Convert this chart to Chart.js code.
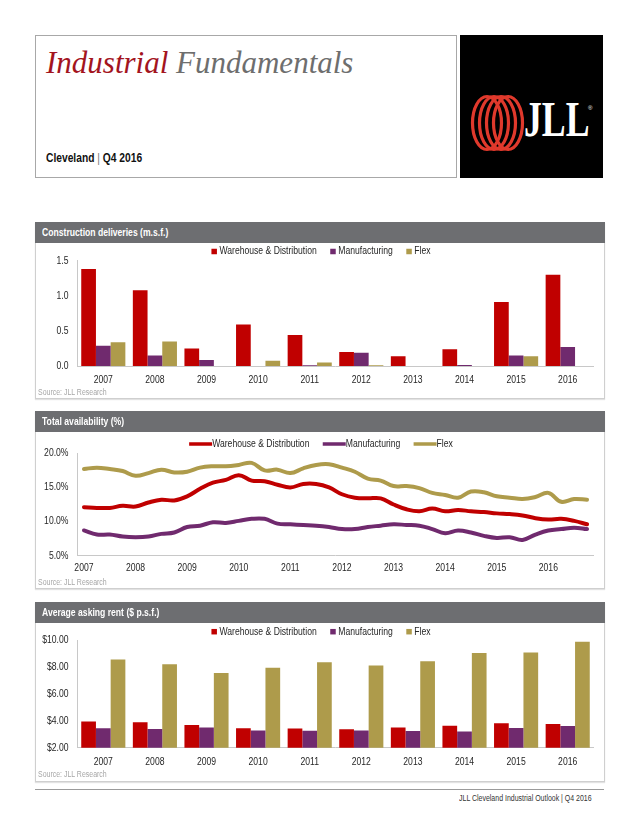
<!DOCTYPE html>
<html>
<head>
<meta charset="utf-8">
<script src="https://cdn.jsdelivr.net/npm/chart.js@4/dist/chart.umd.min.js"></script>
<style>
  body { margin: 0; background: #fff; }
  #page { position: relative; width: 638px; height: 826px; overflow: hidden; font-family: 'Liberation Sans', Arial, sans-serif; }
  .abs { position: absolute; }
  .nar { display: inline-block; transform: scaleX(0.82); transform-origin: left center; white-space: nowrap; text-indent: 0; }
  .hdr { left: 35px; top: 35px; width: 420px; height: 141px; border: 1px solid #a8a8a8; }
  .title { left: 46px; top: 47px; font-family: 'Liberation Serif', serif; font-style: italic; font-size: 31px; line-height: 1; white-space: nowrap; }
  .title .r { color: #a3141e; }
  .title .g { color: #6e6e6e; }
  .sub { left: 46px; top: 152px; font-size: 12.5px; line-height: 1; font-weight: bold; color: #111; }
  .sub .sep { font-weight: normal; color: #777; }
  .logo { left: 460px; top: 35px; width: 143px; height: 143px; background: #000; }
  .panel { left: 35px; width: 568px; border: 1px solid #cfcfcf; box-shadow: 0 1px 1px #e2e2e2; }
  .bar { left: 35px; width: 563px; height: 21px; padding-left: 7px; background: #6d6e71; color: #fff; font-weight: bold; font-size: 10.5px; line-height: 21px; }
  .src { left: 38px; font-size: 8.5px; color: #a6a6a6; line-height: 1; }
  .wrap { left: 35px; width: 569px; }
  .foot { right: 46px; top: 794px; font-size: 8.5px; color: #333; line-height: 1; }
  .foot .nar { transform-origin: right center; }
</style>
</head>
<body>
<div id="page">
  <div class="abs hdr"></div>
  <div class="abs title"><span class="r">Industrial</span> <span class="g">Fundamentals</span></div>
  <div class="abs sub"><span class="nar">Cleveland <span class="sep">|</span> Q4 2016</span></div>
  <div class="abs logo">
    <svg width="143" height="143" style="position:absolute;left:0;top:0">
      <g fill="none" stroke="#e0392c" stroke-width="3.2">
        <ellipse cx="27" cy="88" rx="14.5" ry="26.5"/>
        <ellipse cx="34" cy="88" rx="14.5" ry="26.5"/>
        <ellipse cx="41" cy="88" rx="14.5" ry="26.5"/>
        <ellipse cx="48" cy="88" rx="14.5" ry="26.5"/>
      </g>
    </svg>
    <div class="abs" style="left:64px;top:59px;font-family:'Liberation Serif',serif;font-weight:bold;font-size:51px;line-height:1;color:#fff;transform:scaleX(0.7);transform-origin:left top;white-space:nowrap">JLL</div>
    <div class="abs" style="left:128px;top:70px;font-size:6px;color:#fff;line-height:1">®</div>
  </div>

  <div class="abs panel" style="top:222px;height:175px"></div>
  <div class="abs bar" style="top:222px"><span class="nar">Construction deliveries (m.s.f.)</span></div>
  <div class="abs wrap" style="top:244px;height:146px"><canvas id="c1"></canvas></div>
  <div class="abs src" style="top:388px"><span class="nar">Source: JLL Research</span></div>

  <div class="abs panel" style="top:411px;height:176px"></div>
  <div class="abs bar" style="top:411px"><span class="nar">Total availability (%)</span></div>
  <div class="abs wrap" style="top:434px;height:146px"><canvas id="c2"></canvas></div>
  <div class="abs src" style="top:578px"><span class="nar">Source: JLL Research</span></div>

  <div class="abs panel" style="top:602px;height:178px"></div>
  <div class="abs bar" style="top:602px"><span class="nar">Average asking rent ($ p.s.f.)</span></div>
  <div class="abs wrap" style="top:625px;height:147px"><canvas id="c3"></canvas></div>
  <div class="abs src" style="top:770px"><span class="nar">Source: JLL Research</span></div>

  <div class="abs" style="left:35px;top:789px;width:569px;height:1px;background:#9a9a9a"></div>
  <div class="abs foot"><span class="nar">JLL Cleveland Industrial Outlook | Q4 2016</span></div>
</div>
<script>
const years = ['2007','2008','2009','2010','2011','2012','2013','2014','2015','2016'];
const seriesNames = ['Warehouse & Distribution', 'Manufacturing', 'Flex'];
const seriesColors = ['#c00000', '#702a6e', '#ae9b4b'];

// construction deliveries, m.s.f.
const whDeliveries  = [1.38, 1.08, 0.25, 0.59, 0.44, 0.20, 0.14, 0.24, 0.91, 1.30];
const mfgDeliveries = [0.29, 0.15, 0.085, 0, 0.01, 0.19, 0, 0.015, 0.15, 0.27];
const flexDeliveries = [0.34, 0.35, 0, 0.075, 0.05, 0.01, 0, 0, 0.14, 0];

// total availability %, quarterly 2007 Q1 - 2016 Q4
const whAvail = [12.1, 12.0, 12.0, 12.3, 12.2, 12.8, 13.2, 13.1, 13.7, 14.8, 15.7, 16.1,
  16.8, 16.0, 15.9, 15.4, 15.0, 15.5, 15.5, 15.0, 14.0, 13.5, 13.4, 13.4,
  12.5, 11.8, 11.5, 11.9, 11.5, 11.7, 11.5, 11.4, 11.2, 11.1, 10.9, 10.5,
  10.3, 10.4, 10.1, 9.6];
const mfgAvail = [8.7, 8.1, 8.1, 7.8, 7.7, 7.8, 8.2, 8.4, 9.2, 9.4, 9.9, 9.8,
  10.1, 10.4, 10.4, 9.7, 9.6, 9.5, 9.4, 9.2, 8.9, 8.9, 9.2, 9.4,
  9.6, 9.5, 9.4, 8.9, 8.3, 8.7, 8.4, 7.9, 7.6, 7.7, 7.3, 8.1,
  8.7, 8.9, 9.1, 8.9];
const flexAvail = [17.7, 17.9, 17.7, 17.4, 16.7, 17.1, 17.6, 17.2, 17.3, 17.9, 18.1, 18.1,
  18.3, 18.6, 17.5, 17.6, 17.1, 17.8, 18.3, 18.4, 17.9, 17.3, 16.3, 16.0,
  15.2, 15.2, 14.9, 14.2, 13.9, 13.5, 14.4, 14.3, 13.7, 13.5, 13.3, 13.6,
  14.2, 12.9, 13.3, 13.2];

// average asking rent, $ p.s.f.
const whRent   = [3.95, 3.90, 3.69, 3.45, 3.43, 3.38, 3.50, 3.64, 3.83, 3.76];
const mfgRent  = [3.45, 3.40, 3.50, 3.28, 3.26, 3.28, 3.24, 3.21, 3.47, 3.62];
const flexRent = [8.57, 8.21, 7.57, 7.96, 8.37, 8.13, 8.44, 9.05, 9.10, 9.89];

const quarters = years.flatMap(y => ['Q1', 'Q2', 'Q3', 'Q4'].map(q => q + ' ' + y));

const FONT = "'Liberation Sans', Arial, sans-serif";
const SQUEEZE = 0.82;   // no narrow font here, so squeeze text like Arial Narrow
Chart.defaults.font.family = FONT;
Chart.defaults.font.size = 10.5;
Chart.defaults.color = '#262626';
Chart.defaults.animation = false;

function narrowCtx(id) {
  const ctx = document.getElementById(id).getContext('2d');
  const fill = ctx.fillText.bind(ctx);
  ctx.fillText = (t, x, y, m) => {
    ctx.save();
    ctx.translate(x, y);
    ctx.scale(SQUEEZE, 1);
    fill(t, 0, 0, m);
    ctx.restore();
  };
  return ctx;
}

// legend drawn at a fixed spot above the plot
const topLegend = {
  id: 'topLegend',
  afterDraw(chart, args, o) {
    const ctx = chart.ctx;
    ctx.save();
    ctx.font = o.size + 'px ' + FONT;
    ctx.textBaseline = 'middle';
    ctx.textAlign = 'left';
    const items = chart.data.datasets.map(ds => ({ text: ds.label, color: ds.borderColor || ds.backgroundColor }));
    const w = items.map(it => o.markW + o.gap + ctx.measureText(it.text).width * SQUEEZE);
    const total = w.reduce((a, b) => a + b, 0) + o.spacing * (items.length - 1);
    let x = o.cx - total / 2;
    items.forEach((it, i) => {
      ctx.fillStyle = it.color;
      ctx.fillRect(x, o.y - o.markH / 2, o.markW, o.markH);
      ctx.fillStyle = '#262626';
      ctx.fillText(it.text, x + o.markW + o.gap, o.y);
      x += w[i] + o.spacing;
    });
    ctx.restore();
  }
};

function makeScales(min, max, step, fmt, xPad, xHeight) {
  return {
    x: {
      grid: { display: false, drawTicks: false },
      border: { color: '#c8c8c8' },
      ticks: { padding: xPad, maxRotation: 0, autoSkip: false },
      afterFit: s => { s.height = xHeight; }
    },
    y: {
      min: min, max: max,
      grid: { display: false, drawTicks: false },
      border: { color: '#c8c8c8' },
      ticks: { stepSize: step, padding: 9, callback: fmt },
      afterFit: s => { s.width = 42.5; }
    }
  };
}

function barSets(a, b, c) {
  return [a, b, c].map((d, i) => ({
    label: seriesNames[i], data: d, backgroundColor: seriesColors[i],
    borderWidth: 0, categoryPercentage: 0.855, barPercentage: 1
  }));
}

new Chart(narrowCtx('c1'), {
  type: 'bar',
  data: { labels: years, datasets: barSets(whDeliveries, mfgDeliveries, flexDeliveries) },
  options: {
    responsive: true, maintainAspectRatio: false,
    layout: { padding: { top: 16.7, right: 10.5, left: 0, bottom: 0 } },
    plugins: {
      legend: { display: false }, tooltip: { enabled: false },
      topLegend: { cx: 286, y: 7.5, size: 10.5, markW: 5.5, markH: 5.5, gap: 2.5, spacing: 13.5 }
    },
    scales: makeScales(0, 1.5, 0.5, v => v.toFixed(1), 8, 24)
  },
  plugins: [topLegend]
});

new Chart(narrowCtx('c2'), {
  type: 'line',
  data: {
    labels: quarters,
    datasets: [whAvail, mfgAvail, flexAvail].map((d, i) => ({
      label: seriesNames[i], data: d, borderColor: seriesColors[i], backgroundColor: seriesColors[i],
      borderWidth: 4, pointRadius: 0, tension: 0.4, fill: false, borderCapStyle: 'round'
    }))
  },
  options: {
    responsive: true, maintainAspectRatio: false,
    layout: { padding: { top: 19.3, right: 10.5, left: 0, bottom: 0 } },
    plugins: {
      legend: { display: false }, tooltip: { enabled: false },
      topLegend: { cx: 286, y: 10, size: 10.5, markW: 23, markH: 3.5, gap: 0, spacing: 13.3 }
    },
    scales: (() => {
      const s = makeScales(5, 20, 5, v => v.toFixed(1) + '%', 6.5, 24.3);
      s.x.offset = true;
      s.x.ticks.callback = (v, i) => (i % 4 === 0 ? quarters[i].slice(3) : '');
      return s;
    })()
  },
  plugins: [topLegend]
});

new Chart(narrowCtx('c3'), {
  type: 'bar',
  data: { labels: years, datasets: barSets(whRent, mfgRent, flexRent) },
  options: {
    responsive: true, maintainAspectRatio: false,
    layout: { padding: { top: 10.7, right: 10.5, left: 0, bottom: 0 } },
    plugins: {
      legend: { display: false }, tooltip: { enabled: false },
      topLegend: { cx: 286, y: 6.7, size: 10.5, markW: 5.5, markH: 5.5, gap: 2.5, spacing: 13.5 }
    },
    scales: makeScales(2, 10, 2, v => '$' + v.toFixed(2), 8.5, 24.3)
  },
  plugins: [topLegend]
});
</script>
</body>
</html>
